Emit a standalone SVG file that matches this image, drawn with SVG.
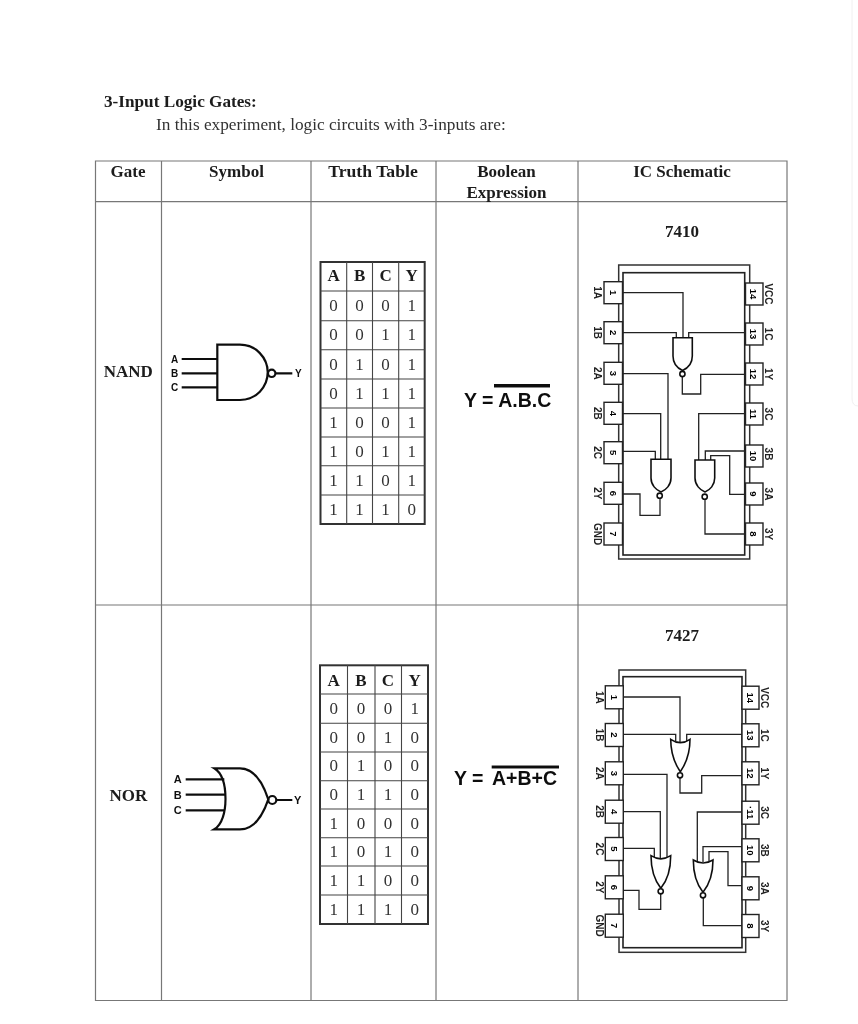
<svg xmlns="http://www.w3.org/2000/svg" width="858" height="1024" viewBox="0 0 858 1024">
<style>
text{font-family:"Liberation Serif","Times New Roman",serif;fill:#1c1c1c}
.h{font-size:17px;font-weight:bold;text-anchor:middle}
.b{font-size:17px;text-anchor:middle;fill:#333}
.g{font-size:17px;font-weight:bold;text-anchor:middle}
.s{font-family:"Liberation Sans",Arial,sans-serif;font-size:10px;font-weight:bold;text-anchor:middle;dominant-baseline:central;fill:#111}
.l{font-family:"Liberation Sans",Arial,sans-serif;font-size:10px;font-weight:bold;text-anchor:middle;dominant-baseline:central;fill:#222}
.n{font-family:"Liberation Sans",Arial,sans-serif;font-size:9.5px;font-weight:bold;text-anchor:middle;dominant-baseline:central;fill:#000}
.x{font-family:"Liberation Sans",Arial,sans-serif;font-size:19.5px;font-weight:bold;fill:#111}
.grid{fill:none;stroke:#777;stroke-width:1.2}
.tt{fill:none;stroke:#444;stroke-width:1.1}
.tto{fill:none;stroke:#333;stroke-width:2}
.sym{fill:none;stroke:#111;stroke-width:2.2}
.w{fill:none;stroke:#222;stroke-width:1.3}
.o{fill:none;stroke:#333;stroke-width:1.5}
.p{fill:#fff;stroke:#222;stroke-width:1.4}
.gt{fill:#fff;stroke:#111;stroke-width:1.6}
.soft{filter:url(#soft)}
</style>
<defs>
<filter id="soft" x="-5%" y="-5%" width="110%" height="110%"><feGaussianBlur stdDeviation="0.4"/></filter>
</defs>
<rect width="858" height="1024" fill="#fff"/>
<path d="M858 406 Q852 406 852 398 V0" fill="none" stroke="#f0f0f0" stroke-width="1"/>
<g class="soft">
<g id="heading">
<text x="104" y="107" font-size="17.200" font-weight="bold">3-Input Logic Gates:</text>
<text x="156" y="130" font-size="17.250" style="fill:#333">In this experiment, logic circuits with 3-inputs are:</text>
</g>
<g id="table-grid">
<path class="grid" d="M95.500 161H787V1000.500H95.500ZM95.500 201.700H787M95.500 605H787M161.500 161V1000.500M311 161V1000.500M436 161V1000.500M578 161V1000.500"/>
<text class="h" x="128" y="177">Gate</text>
<text class="h" x="236.500" y="177">Symbol</text>
<text class="h" x="373" y="177" style="font-size:17.700px">Truth Table</text>
<text class="h" x="506.500" y="177">Boolean</text>
<text class="h" x="506.500" y="197.500">Expression</text>
<text class="h" x="682" y="177">IC Schematic</text>
<text class="g" x="128.300" y="377">NAND</text>
<text class="g" x="128.300" y="801">NOR</text>
<text class="g" x="682" y="237">7410</text>
<text class="g" x="682" y="641">7427</text>
</g>
<g id="nand-symbol">
<path class="sym" d="M181.700 359H217.300M181.700 373.300H217.300M181.700 387.300H217.300M275.500 373.300H292.300"/>
<path class="sym" d="M217.300 344.700H240C256 344.700 267.700 358 267.700 372.300C267.700 387 256 400 240 400H217.300Z"/>
<circle class="sym" cx="271.700" cy="373.300" r="3.700"/>
<text class="s" x="174.700" y="359">A</text><text class="s" x="174.700" y="373.300">B</text><text class="s" x="174.700" y="387.300">C</text><text class="s" x="298.300" y="373.300">Y</text>
</g>
<g id="nor-symbol">
<path class="sym" d="M185.700 779.300H224.300M185.700 794.700H225M185.700 810.300H224.300M276.500 800H292.300"/>
<path class="sym" d="M214.300 768.300H240C254 768.300 263 783 268.300 799.300C263 815 254 829.300 240 829.300H214.300C222 825 225.500 812 225.500 799C225.500 785 222 773 214.300 768.300Z"/>
<circle class="sym" cx="272.300" cy="800" r="4"/>
<text class="s" x="177.700" y="779.300" style="font-size:11px">A</text><text class="s" x="177.700" y="794.700" style="font-size:11px">B</text><text class="s" x="177.700" y="810.300" style="font-size:11px">C</text><text class="s" x="297.700" y="800" style="font-size:11px">Y</text>
</g>
<g id="nand-truth-table">
<rect class="tto" x="320.500" y="262" width="104.200" height="262"/>
<path class="tt" d="M320.500 291H424.700M320.500 320.700H424.700M320.500 349.700H424.700M320.500 379H424.700M320.500 408H424.700M320.500 437H424.700M320.500 465.700H424.700M320.500 495H424.700M346.700 262V524M372.500 262V524M398.700 262V524"/>
<text class="h" x="333.600" y="281">A</text><text class="h" x="359.600" y="281">B</text><text class="h" x="385.600" y="281">C</text><text class="h" x="411.700" y="281">Y</text>
<text class="b" x="333.600" y="310.500">0</text><text class="b" x="359.600" y="310.500">0</text><text class="b" x="385.600" y="310.500">0</text><text class="b" x="411.700" y="310.500">1</text>
<text class="b" x="333.600" y="340">0</text><text class="b" x="359.600" y="340">0</text><text class="b" x="385.600" y="340">1</text><text class="b" x="411.700" y="340">1</text>
<text class="b" x="333.600" y="369.500">0</text><text class="b" x="359.600" y="369.500">1</text><text class="b" x="385.600" y="369.500">0</text><text class="b" x="411.700" y="369.500">1</text>
<text class="b" x="333.600" y="398.500">0</text><text class="b" x="359.600" y="398.500">1</text><text class="b" x="385.600" y="398.500">1</text><text class="b" x="411.700" y="398.500">1</text>
<text class="b" x="333.600" y="427.500">1</text><text class="b" x="359.600" y="427.500">0</text><text class="b" x="385.600" y="427.500">0</text><text class="b" x="411.700" y="427.500">1</text>
<text class="b" x="333.600" y="456.500">1</text><text class="b" x="359.600" y="456.500">0</text><text class="b" x="385.600" y="456.500">1</text><text class="b" x="411.700" y="456.500">1</text>
<text class="b" x="333.600" y="485.500">1</text><text class="b" x="359.600" y="485.500">1</text><text class="b" x="385.600" y="485.500">0</text><text class="b" x="411.700" y="485.500">1</text>
<text class="b" x="333.600" y="514.500">1</text><text class="b" x="359.600" y="514.500">1</text><text class="b" x="385.600" y="514.500">1</text><text class="b" x="411.700" y="514.500">0</text>
</g>
<g id="nor-truth-table">
<rect class="tto" x="320" y="665.300" width="108" height="258.700"/>
<path class="tt" d="M320 694H428M320 723.300H428M320 752H428M320 780.700H428M320 809H428M320 837.700H428M320 866H428M320 895H428M347.500 665.300V924M375 665.300V924M401.500 665.300V924"/>
<text class="h" x="333.700" y="685.500">A</text><text class="h" x="361" y="685.500">B</text><text class="h" x="388" y="685.500">C</text><text class="h" x="414.700" y="685.500">Y</text>
<text class="b" x="333.700" y="713.500">0</text><text class="b" x="361" y="713.500">0</text><text class="b" x="388" y="713.500">0</text><text class="b" x="414.700" y="713.500">1</text>
<text class="b" x="333.700" y="742.500">0</text><text class="b" x="361" y="742.500">0</text><text class="b" x="388" y="742.500">1</text><text class="b" x="414.700" y="742.500">0</text>
<text class="b" x="333.700" y="771">0</text><text class="b" x="361" y="771">1</text><text class="b" x="388" y="771">0</text><text class="b" x="414.700" y="771">0</text>
<text class="b" x="333.700" y="800">0</text><text class="b" x="361" y="800">1</text><text class="b" x="388" y="800">1</text><text class="b" x="414.700" y="800">0</text>
<text class="b" x="333.700" y="828.500">1</text><text class="b" x="361" y="828.500">0</text><text class="b" x="388" y="828.500">0</text><text class="b" x="414.700" y="828.500">0</text>
<text class="b" x="333.700" y="857">1</text><text class="b" x="361" y="857">0</text><text class="b" x="388" y="857">1</text><text class="b" x="414.700" y="857">0</text>
<text class="b" x="333.700" y="885.500">1</text><text class="b" x="361" y="885.500">1</text><text class="b" x="388" y="885.500">0</text><text class="b" x="414.700" y="885.500">0</text>
<text class="b" x="333.700" y="914.500">1</text><text class="b" x="361" y="914.500">1</text><text class="b" x="388" y="914.500">1</text><text class="b" x="414.700" y="914.500">0</text>
</g>
<g id="nand-expression">
<text class="x" x="464" y="406.500">Y = A.B.C</text>
<rect x="494" y="384" width="56" height="3.500" fill="#111"/>
</g>
<g id="nor-expression">
<text class="x" x="454" y="785">Y =</text>
<text class="x" x="492" y="785">A+B+C</text>
<rect x="491.700" y="765.500" width="67.300" height="3" fill="#111"/>
</g>
<g id="ic-7410">
<rect class="o" x="618.700" y="265" width="131" height="294"/>
<rect class="w" x="623" y="272.700" width="121.700" height="282.300" style="fill:#fff;stroke-width:1.6"/>
<g id="ic-7410-connectors">
<path class="w" d="M623 292.700H683V337.700M623 332.700H676.300V337.700M745 332.700H688.700V337.700M682.300 376.700V394H700.700V374.300H745"/>
<path class="w" d="M623 373.700H668V459.300M623 413.700H660.700V459.300M623 451.300H655.300V459.300M623 494H640V515.300H660V498"/>
<path class="w" d="M745 413.700H698.700V460M745 451H705.300V460M745 494.300H729.700V455.700H710.700V460M745 534H705V499.500"/>
</g>
<path class="gt" d="M673 337.700H692.300V356C692.300 363 688 368 682.600 370.500C677 368 673 363 673 356Z"/><circle class="gt" cx="682.400" cy="374" r="2.600"/>
<path class="gt" d="M651 459.300H671V478C671 485 666 490 661 492C656 490 651 485 651 478Z"/><circle class="gt" cx="659.700" cy="495.700" r="2.600"/>
<path class="gt" d="M695 460H714.700V478C714.700 485 710 490 705 492C700 490 695 485 695 478Z"/><circle class="gt" cx="704.700" cy="496.700" r="2.600"/>
<g id="ic-7410-pins">
<rect class="p" x="604" y="281.700" width="18.500" height="22"/><rect class="p" x="604" y="321.700" width="18.500" height="22"/><rect class="p" x="604" y="362.300" width="18.500" height="22"/><rect class="p" x="604" y="402.300" width="18.500" height="22"/><rect class="p" x="604" y="441.700" width="18.500" height="22"/><rect class="p" x="604" y="482.300" width="18.500" height="22"/><rect class="p" x="604" y="523" width="18.500" height="22"/>
<rect class="p" x="745.500" y="283" width="17.500" height="22"/><rect class="p" x="745.500" y="323" width="17.500" height="22"/><rect class="p" x="745.500" y="363" width="17.500" height="22"/><rect class="p" x="745.500" y="403" width="17.500" height="22"/><rect class="p" x="745.500" y="445" width="17.500" height="22"/><rect class="p" x="745.500" y="483" width="17.500" height="22"/><rect class="p" x="745.500" y="523" width="17.500" height="22"/>
<text class="n" transform="rotate(90 613 292.700)" x="613" y="292.700">1</text><text class="n" transform="rotate(90 613 332.700)" x="613" y="332.700">2</text><text class="n" transform="rotate(90 613 373.300)" x="613" y="373.300">3</text><text class="n" transform="rotate(90 613 413.300)" x="613" y="413.300">4</text><text class="n" transform="rotate(90 613 452.700)" x="613" y="452.700">5</text><text class="n" transform="rotate(90 613 493.300)" x="613" y="493.300">6</text><text class="n" transform="rotate(90 613 534)" x="613" y="534">7</text>
<text class="n" transform="rotate(90 753.500 294)" x="753.500" y="294">14</text><text class="n" transform="rotate(90 753.500 334)" x="753.500" y="334">13</text><text class="n" transform="rotate(90 753.500 374)" x="753.500" y="374">12</text><text class="n" transform="rotate(90 753.500 414)" x="753.500" y="414">11</text><text class="n" transform="rotate(90 753.500 456)" x="753.500" y="456">10</text><text class="n" transform="rotate(90 753.500 494)" x="753.500" y="494">9</text><text class="n" transform="rotate(90 753.500 534)" x="753.500" y="534">8</text>
<text class="l" transform="rotate(90 597 292.700)" x="597" y="292.700">1A</text><text class="l" transform="rotate(90 597 332.700)" x="597" y="332.700">1B</text><text class="l" transform="rotate(90 597 373.300)" x="597" y="373.300">2A</text><text class="l" transform="rotate(90 597 413.300)" x="597" y="413.300">2B</text><text class="l" transform="rotate(90 597 452.700)" x="597" y="452.700">2C</text><text class="l" transform="rotate(90 597 493.300)" x="597" y="493.300">2Y</text><text class="l" transform="rotate(90 597 534)" x="597" y="534">GND</text>
<text class="l" transform="rotate(90 768 294)" x="768" y="294">VCC</text><text class="l" transform="rotate(90 768 334)" x="768" y="334">1C</text><text class="l" transform="rotate(90 768 374)" x="768" y="374">1Y</text><text class="l" transform="rotate(90 768 414)" x="768" y="414">3C</text><text class="l" transform="rotate(90 768 454)" x="768" y="454">3B</text><text class="l" transform="rotate(90 768 494)" x="768" y="494">3A</text><text class="l" transform="rotate(90 768 534)" x="768" y="534">3Y</text>
</g>
</g>
<g id="ic-7427">
<rect class="o" x="619" y="670" width="126.700" height="282.300"/>
<rect class="w" x="623" y="676.700" width="119" height="271" style="fill:#fff;stroke-width:1.6"/>
<g id="ic-7427-connectors">
<path class="w" d="M623 697H680V742M623 734.300H675.700V741M742 734.300H686.700V741M680 778V793H701.700V775.700H742"/>
<path class="w" d="M623 774.300H667V857M623 811.700H660.300V858M623 848.300H654.300V857M623 890.300H639V909.300H660.700V893.700"/>
<path class="w" d="M742 812H697.300V862M742 846.700H703V862M742 885.700H728V851.700H709V861M742 925.700H703.300V898"/>
</g>
<path class="gt" d="M670.700 739.300Q680.300 746 690 739.300C690 755 685 765 680.300 771.700C675.700 765 670.700 755 670.700 739.300Z"/><circle class="gt" cx="680" cy="775.300" r="2.600"/>
<path class="gt" d="M651 855.700Q660.800 862 670.700 855.700C670.700 871 666 882 660.800 888.300C656 882 651 871 651 855.700Z"/><circle class="gt" cx="660.700" cy="891.300" r="2.600"/>
<path class="gt" d="M693.300 860Q703 866 713 860C713 875 708 886 703 892.300C698 886 693.300 875 693.300 860Z"/><circle class="gt" cx="703" cy="895.300" r="2.600"/>
<g id="ic-7427-pins">
<rect class="p" x="605.300" y="685.800" width="18" height="23"/><rect class="p" x="605.300" y="723.500" width="18" height="23"/><rect class="p" x="605.300" y="761.800" width="18" height="23"/><rect class="p" x="605.300" y="800.200" width="18" height="23"/><rect class="p" x="605.300" y="837.500" width="18" height="23"/><rect class="p" x="605.300" y="875.800" width="18" height="23"/><rect class="p" x="605.300" y="914.200" width="18" height="23"/>
<rect class="p" x="742" y="686.200" width="17" height="23"/><rect class="p" x="742" y="723.800" width="17" height="23"/><rect class="p" x="742" y="761.800" width="17" height="23"/><rect class="p" x="742" y="801.200" width="17" height="23"/><rect class="p" x="742" y="838.800" width="17" height="23"/><rect class="p" x="742" y="876.800" width="17" height="23"/><rect class="p" x="742" y="914.500" width="17" height="23"/>
<text class="n" transform="rotate(90 614 697.300)" x="614" y="697.300">1</text><text class="n" transform="rotate(90 614 735)" x="614" y="735">2</text><text class="n" transform="rotate(90 614 773.300)" x="614" y="773.300">3</text><text class="n" transform="rotate(90 614 811.700)" x="614" y="811.700">4</text><text class="n" transform="rotate(90 614 849)" x="614" y="849">5</text><text class="n" transform="rotate(90 614 887.300)" x="614" y="887.300">6</text><text class="n" transform="rotate(90 614 925.700)" x="614" y="925.700">7</text>
<text class="n" transform="rotate(90 750.500 697.700)" x="750.500" y="697.700">14</text><text class="n" transform="rotate(90 750.500 735.300)" x="750.500" y="735.300">13</text><text class="n" transform="rotate(90 750.500 773.300)" x="750.500" y="773.300">12</text><text class="n" transform="rotate(90 750.500 812.700)" x="750.500" y="812.700">·11</text><text class="n" transform="rotate(90 750.500 850.300)" x="750.500" y="850.300">10</text><text class="n" transform="rotate(90 750.500 888.300)" x="750.500" y="888.300">9</text><text class="n" transform="rotate(90 750.500 926)" x="750.500" y="926">8</text>
<text class="l" transform="rotate(90 599.700 697.300)" x="599.700" y="697.300">1A</text><text class="l" transform="rotate(90 599.700 735)" x="599.700" y="735">1B</text><text class="l" transform="rotate(90 599.700 773.300)" x="599.700" y="773.300">2A</text><text class="l" transform="rotate(90 599.700 811.700)" x="599.700" y="811.700">2B</text><text class="l" transform="rotate(90 599.700 849)" x="599.700" y="849">2C</text><text class="l" transform="rotate(90 599.700 887.300)" x="599.700" y="887.300">2Y</text><text class="l" transform="rotate(90 599.700 925.700)" x="599.700" y="925.700">GND</text>
<text class="l" transform="rotate(90 764.700 697.700)" x="764.700" y="697.700">VCC</text><text class="l" transform="rotate(90 764.700 735.300)" x="764.700" y="735.300">1C</text><text class="l" transform="rotate(90 764.700 773.300)" x="764.700" y="773.300">1Y</text><text class="l" transform="rotate(90 764.700 812.700)" x="764.700" y="812.700">3C</text><text class="l" transform="rotate(90 764.700 850.300)" x="764.700" y="850.300">3B</text><text class="l" transform="rotate(90 764.700 888.300)" x="764.700" y="888.300">3A</text><text class="l" transform="rotate(90 764.700 926)" x="764.700" y="926">3Y</text>
</g>
</g>
</g>
</svg>
